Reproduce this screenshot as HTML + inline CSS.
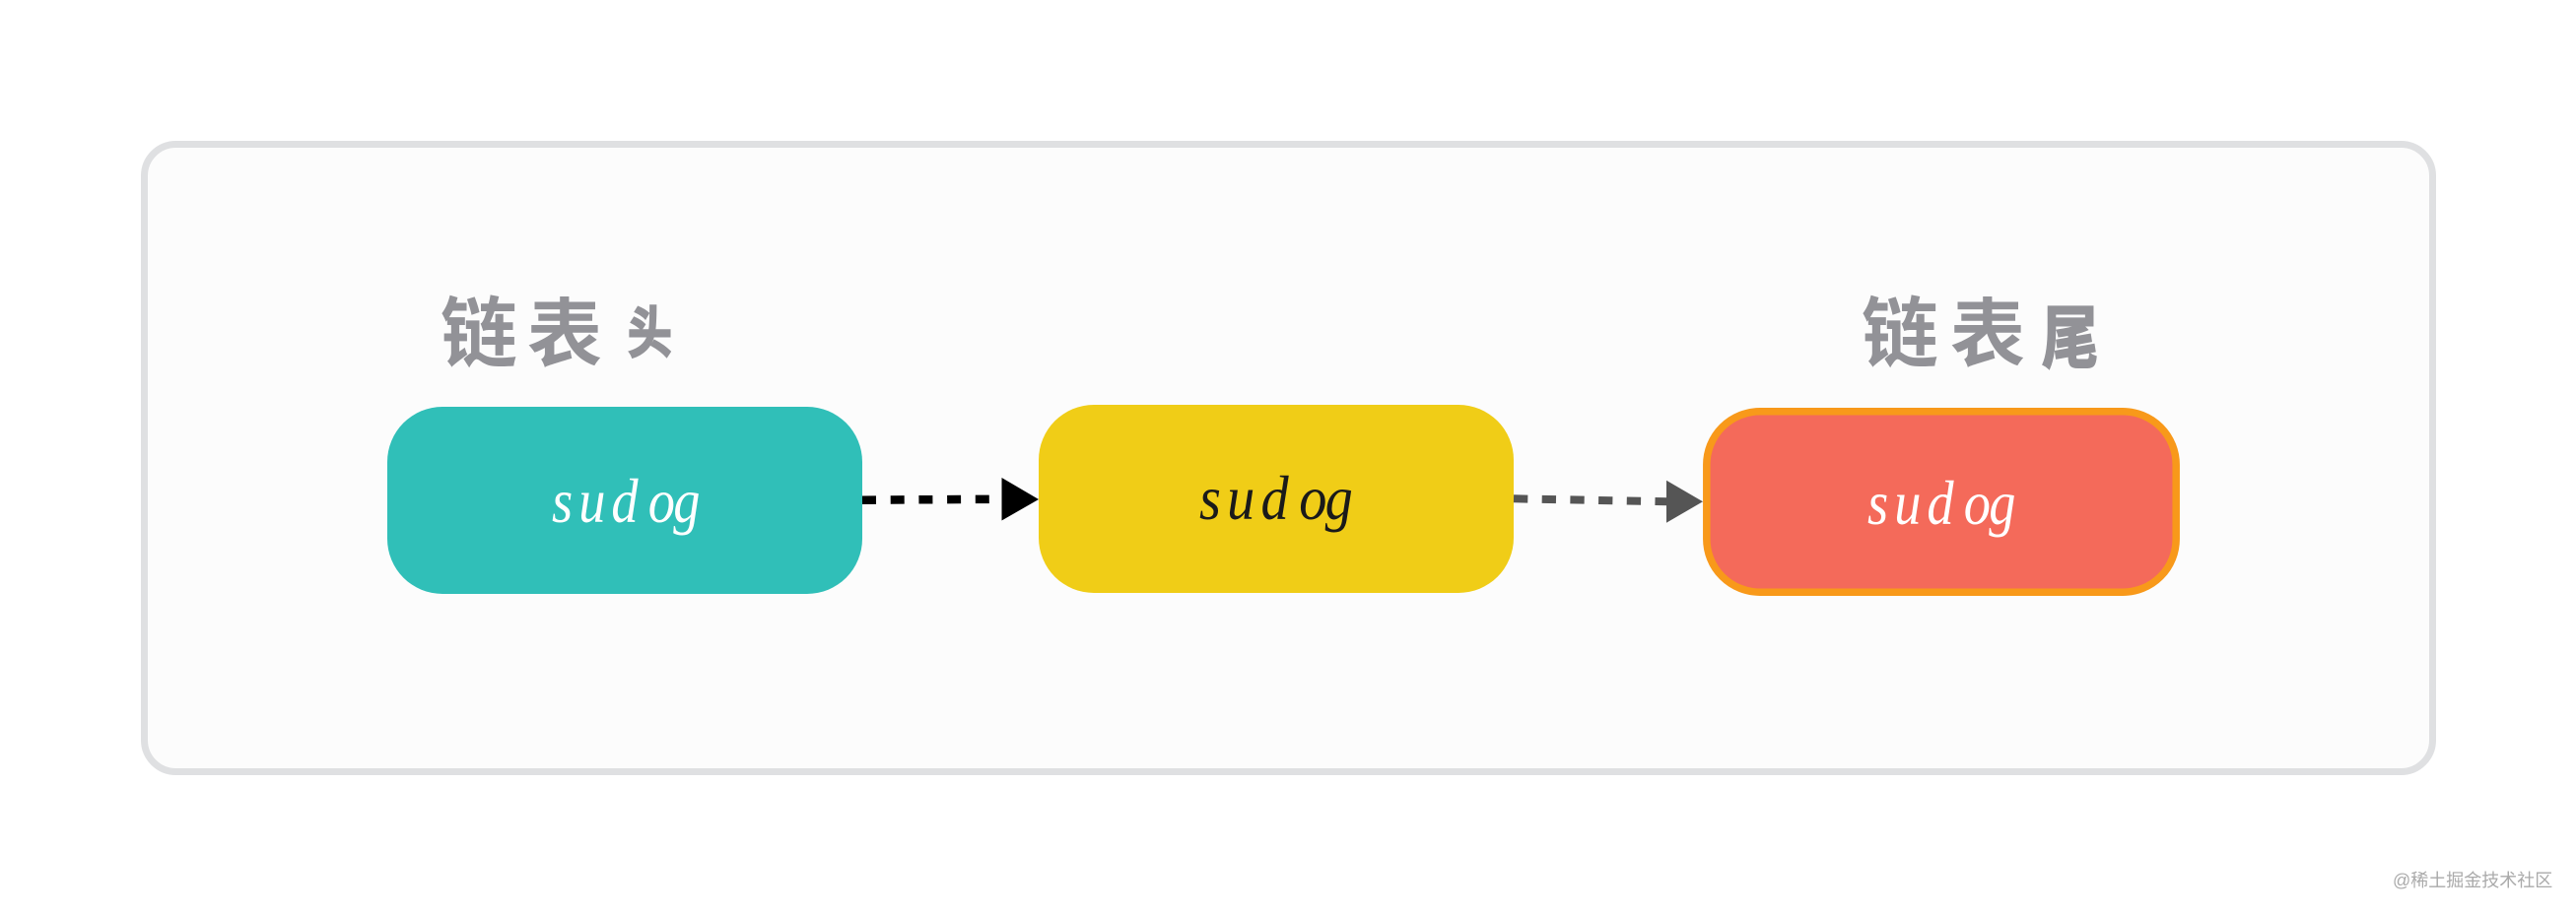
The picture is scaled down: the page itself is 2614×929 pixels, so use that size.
<!DOCTYPE html>
<html lang="zh">
<head>
<meta charset="utf-8">
<title>sudog</title>
<style>
html,body{margin:0;padding:0;background:#fff;width:2614px;height:929px;overflow:hidden}
svg{display:block}
.cn{font-family:"Liberation Sans","Noto Sans CJK SC",sans-serif;font-weight:700;fill:#929297}
.th{stroke:#929297;stroke-width:2px}
.en{font-family:"Liberation Serif",serif;font-style:italic;font-size:64px}
.wm{font-family:"Liberation Sans","Noto Sans CJK SC",sans-serif;font-size:18px;fill:#aaa}
</style>
</head>
<body>
<svg width="2614" height="929" viewBox="0 0 2614 929" xmlns="http://www.w3.org/2000/svg">
  <rect x="146.500" y="146.500" width="2322" height="637" rx="32" ry="32" fill="#fcfcfc" stroke="#dfe0e2" stroke-width="7"/>

  <rect x="393" y="413" width="482" height="190" rx="56" ry="56" fill="#30bfb8"/>
  <rect x="1054" y="411" width="482" height="191" rx="56" ry="56" fill="#f0cd17"/>
  <rect x="1731.800" y="417.800" width="476.400" height="183.400" rx="54" ry="54" fill="#f46a5a" stroke="#f8991a" stroke-width="7.500"/>

  <line x1="875" y1="507.700" x2="1006" y2="506.800" stroke="#000" stroke-width="8.500" stroke-dasharray="14 14.700"/>
  <polygon points="1016.500,485 1054,507 1016.500,528.500" fill="#000"/>
  <line x1="1536" y1="506.300" x2="1692" y2="509.300" stroke="#555" stroke-width="8" stroke-dasharray="14.300 14.400"/>
  <polygon points="1691,487.700 1728,509.300 1691,530.700" fill="#555"/>

  <text class="en" x="0 32 71 115 145" y="0" fill="#fff" transform="translate(560 530) scale(.85 1)">sudog</text>
  <text class="en" x="0 32 71 115 145" y="0" fill="#1a1a1a" transform="translate(1217 527) scale(.88 1)">sudog</text>
  <text class="en" x="0 32 71 115 145" y="0" fill="#fff" transform="translate(1895 532) scale(.85 1)">sudog</text>

  <text class="cn" x="447" y="366" font-size="78">链</text>
  <text class="cn" x="535" y="366" font-size="76">表</text>
  <text class="cn th" font-size="56" transform="translate(637 358) scale(.8 1)">头</text>

  <text class="cn" x="1889" y="366" font-size="78">链</text>
  <text class="cn" x="1979" y="366" font-size="76">表</text>
  <text class="cn th" font-size="70" transform="translate(2072 368) scale(.82 1)">尾</text>

  <text class="wm" x="2428" y="900">@稀土掘金技术社区</text>
</svg>
</body>
</html>
